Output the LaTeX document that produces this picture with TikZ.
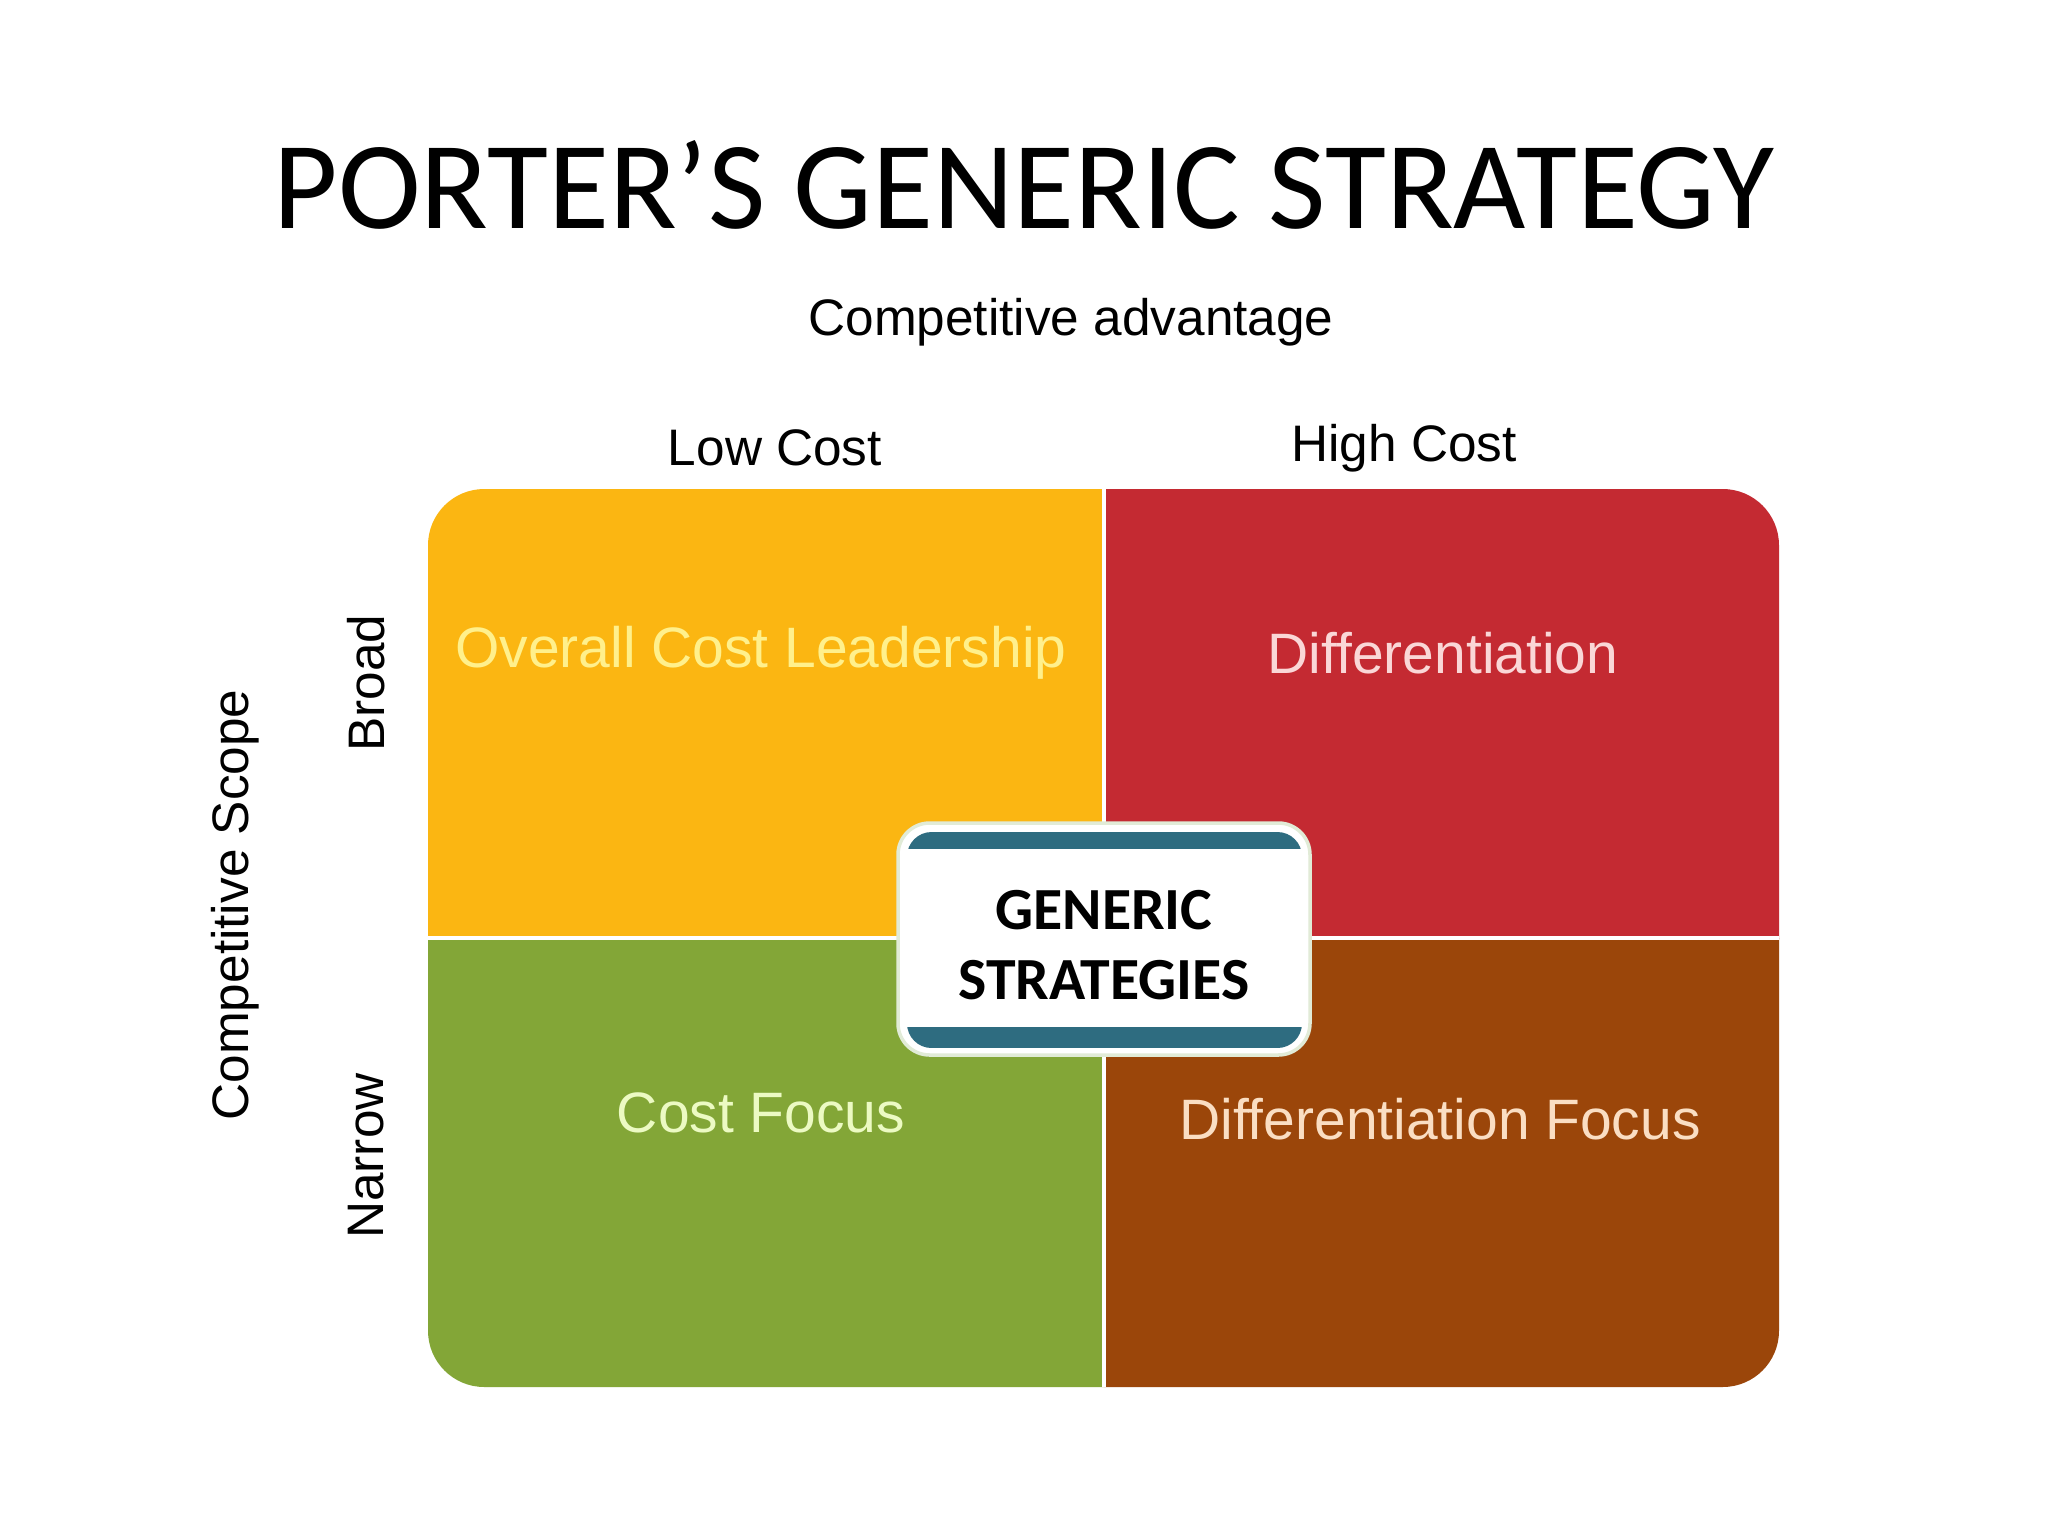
\documentclass[tikz,border=0pt]{standalone}
\usepackage{fontspec}
\usepackage[RGB]{xcolor}
\setmainfont{Carlito}
\newfontfamily\helv{Liberation Sans}
\definecolor{LC}{RGB}{251,182,18}
\definecolor{HC}{RGB}{196,42,50}
\definecolor{CF}{RGB}{131,166,55}
\definecolor{DF}{RGB}{155,70,10}
\definecolor{LCtext}{RGB}{255,240,140}
\definecolor{HCtext}{RGB}{250,215,215}
\definecolor{CFtext}{RGB}{236,250,195}
\definecolor{DFtext}{RGB}{250,222,195}
\definecolor{bar}{RGB}{46,108,128}
\definecolor{rim}{RGB}{225,235,215}
\newcommand{\quadfill}[5]{
  \begin{scope}
    \clip (#2,#3) rectangle (#4,#5);
    \fill[#1, rounded corners=16pt] (428,489) rectangle (1779,1387);
  \end{scope}
}
\tikzset{
  axislabel/.style={font=\helv\fontsize{14.6}{16}\selectfont, inner sep=0pt},
  quadlabel/.style={font=\helv\fontsize{16.2}{18}\selectfont, inner sep=0pt},
  centrelabel/.style={font=\bfseries\fontsize{17}{19}\selectfont, inner sep=0pt}
}
\begin{document}
\begin{tikzpicture}[x=0.01cm, y=-0.01cm]
\useasboundingbox[fill=white] (0,0) rectangle (2048,1536);
% title
\node[inner sep=0pt, font=\fontsize{35.5}{40}\selectfont] (title) at (1024,185) {PORTER’S GENERIC STRATEGY};
% axis labels
\node[axislabel] (advantage) at (1071,322) {Competitive advantage};
\node[axislabel] (lowcost) at (775,448) {Low Cost};
\node[axislabel] (highcost) at (1404,448) {High Cost};
\node[axislabel, rotate=90] (scope) at (235,905) {Competitive Scope};
\node[axislabel, rotate=90] (broad) at (366,683) {Broad};
\node[axislabel, rotate=90] (narrow) at (366,1156) {Narrow};
% quadrants
\quadfill{LC}{428}{489}{1104}{938}
\quadfill{HC}{1104}{489}{1779}{938}
\quadfill{CF}{428}{938}{1104}{1387}
\quadfill{DF}{1104}{938}{1779}{1387}
\draw[white, line width=1.2pt] (1104,489) -- (1104,1387);
\draw[white, line width=1.2pt] (428,938) -- (1779,938);
\node[quadlabel, text=LCtext] (leadership) at (761,653) {Overall Cost Leadership};
\node[quadlabel, text=HCtext] (differentiation) at (1443,653) {Differentiation};
\node[quadlabel, text=CFtext] (costfocus) at (761,1113) {Cost Focus};
\node[quadlabel, text=DFtext] (difffocus) at (1440,1119) {Differentiation Focus};
% centre box
\filldraw[fill=white, draw=rim, line width=1pt, rounded corners=9pt] (898,823) rectangle (1310,1055);
\begin{scope}
  \clip[rounded corners=7pt] (907,832) rectangle (1302,1048);
  \fill[bar] (907,832) rectangle (1302,849);
  \fill[bar] (907,1027) rectangle (1302,1048);
\end{scope}
\node[centrelabel] (generic) at (1104,910) {GENERIC};
\node[centrelabel] (strategies) at (1104,980) {STRATEGIES};
\end{tikzpicture}
\end{document}
